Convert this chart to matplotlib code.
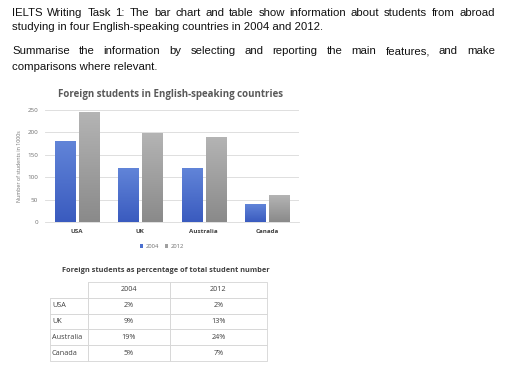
import numpy as np
import matplotlib
matplotlib.use('Agg')
import matplotlib.pyplot as plt
from matplotlib.colors import LinearSegmentedColormap

countries = ['USA', 'UK', 'Australia', 'Canada']
students_2004 = [180, 120, 120, 40]
students_2012 = [245, 198, 190, 60]
years = ['2004', '2012']
pct_2004 = ['2%', '9%', '19%', '5%']
pct_2012 = ['2%', '13%', '24%', '7%']

W, H = 512, 368
fig = plt.figure(figsize=(W/100, H/100), dpi=100)
fig.patch.set_facecolor('white')

# task text, justified like the original
para = [("IELTS Writing Task 1: The bar chart and table show information about students from abroad", 15.5, True),
        ("studying in four English-speaking countries in 2004 and 2012.", 30.5, False),
        ("Summarise the information by selecting and reporting the main features, and make", 54.5, True),
        ("comparisons where relevant.", 69.5, False)]
x0, x1 = 12, 495
renderer = fig.canvas.get_renderer()
for line, yb, just in para:
    words = line.split()
    if not just:
        fig.text(x0/W, 1-yb/H, line, size=8.2, family='Liberation Sans', va='baseline', color='#111111')
        continue
    texts = [fig.text(0, 1-yb/H, w, size=8.2, family='Liberation Sans', va='baseline', color='#111111') for w in words]
    widths = [t.get_window_extent(renderer).width for t in texts]
    gap = (x1 - x0 - sum(widths))/(len(words)-1)
    x = x0
    for t, w in zip(texts, widths):
        t.set_x(x/W)
        x += w + gap

# bar chart
cfont = 'Open Sans'
ax = fig.add_axes([45/W, 1-222/H, 254/W, 112/H])
xs = np.arange(len(countries))
bw = 0.315
off = 0.19
blue = LinearSegmentedColormap.from_list('b', ['#3a5bbf', '#6184d8'])
grey = LinearSegmentedColormap.from_list('g', ['#8a8a8a', '#b4b4b4'])
grad = np.linspace(0, 1, 100).reshape(-1, 1)
for vals, dx, cm, lab, fc in [(students_2004, -off, blue, years[0], '#4a6fcf'),
                             (students_2012, off, grey, years[1], '#a0a0a0')]:
    bars = ax.bar(xs+dx, vals, bw, color=fc, label=lab, zorder=2)
    for b in bars:
        bx, by = b.get_x(), b.get_y()
        im = ax.imshow(grad, cmap=cm, origin='lower', aspect='auto',
                       extent=[bx, bx+b.get_width(), by, by+b.get_height()], zorder=3)
        im.set_clip_path(b)
ax.set_xlim(-0.5, 3.5)
ax.set_ylim(0, 250)
ax.set_yticks(range(0, 251, 50))
ax.set_xticks(xs)
ax.set_xticklabels(countries, fontsize=4.5, fontweight='bold', family=cfont, color='#404040')
ax.tick_params(axis='y', labelsize=4.5, colors='#707070', length=0, pad=5)
ax.tick_params(axis='x', length=0, pad=5)
for lab in ax.get_yticklabels():
    lab.set_family(cfont)
ax.grid(axis='y', color='#d9d9d9', lw=0.6, zorder=0)
for s in ['top', 'right', 'left']:
    ax.spines[s].set_visible(False)
ax.spines['bottom'].set_color('#d9d9d9')
ax.spines['bottom'].set_linewidth(0.6)
ax.set_ylabel('Number of students in 1000s', fontsize=3.8, color='#707070', family=cfont, labelpad=4)
fig.text(58/W, 1-95/H, 'Foreign students in English-speaking countries', size=7, fontweight='bold',
         family=cfont, color='#595959', va='center')
leg = ax.legend(loc='upper center', bbox_to_anchor=(0.46, -0.15), ncol=2, frameon=False,
                fontsize=4.2, handlelength=0.6, handleheight=0.6, columnspacing=1.0, handletextpad=0.4)
for t in leg.get_texts():
    t.set_color('#707070')
    t.set_family(cfont)

# table
fig.text(62/W, 1-271/H, 'Foreign students as percentage of total student number', size=5.3,
         fontweight='bold', family=cfont, color='#404040', va='center')
tax = fig.add_axes([50/W, 1-361/H, 217/W, 79/H])
tax.axis('off')
cells = [[''] + years] + [[c, a, b] for c, a, b in zip(countries, pct_2004, pct_2012)]
tbl = tax.table(cellText=cells, bbox=[0, 0, 1, 1], colWidths=[38, 82, 97], cellLoc='center')
tbl.auto_set_font_size(False)
for (r, c), cell in tbl.get_celld().items():
    cell.set_edgecolor('#d4d4d4')
    cell.set_linewidth(0.6)
    cell.get_text().set_fontsize(5.2)
    cell.get_text().set_family(cfont)
    cell.get_text().set_color('#404040')
    if c == 0:
        cell.get_text().set_horizontalalignment('left')
        cell.PAD = 0.05
    if r == 0 and c == 0:
        cell.visible_edges = 'BR'

fig.savefig('out.png', dpi=100, facecolor='white')
